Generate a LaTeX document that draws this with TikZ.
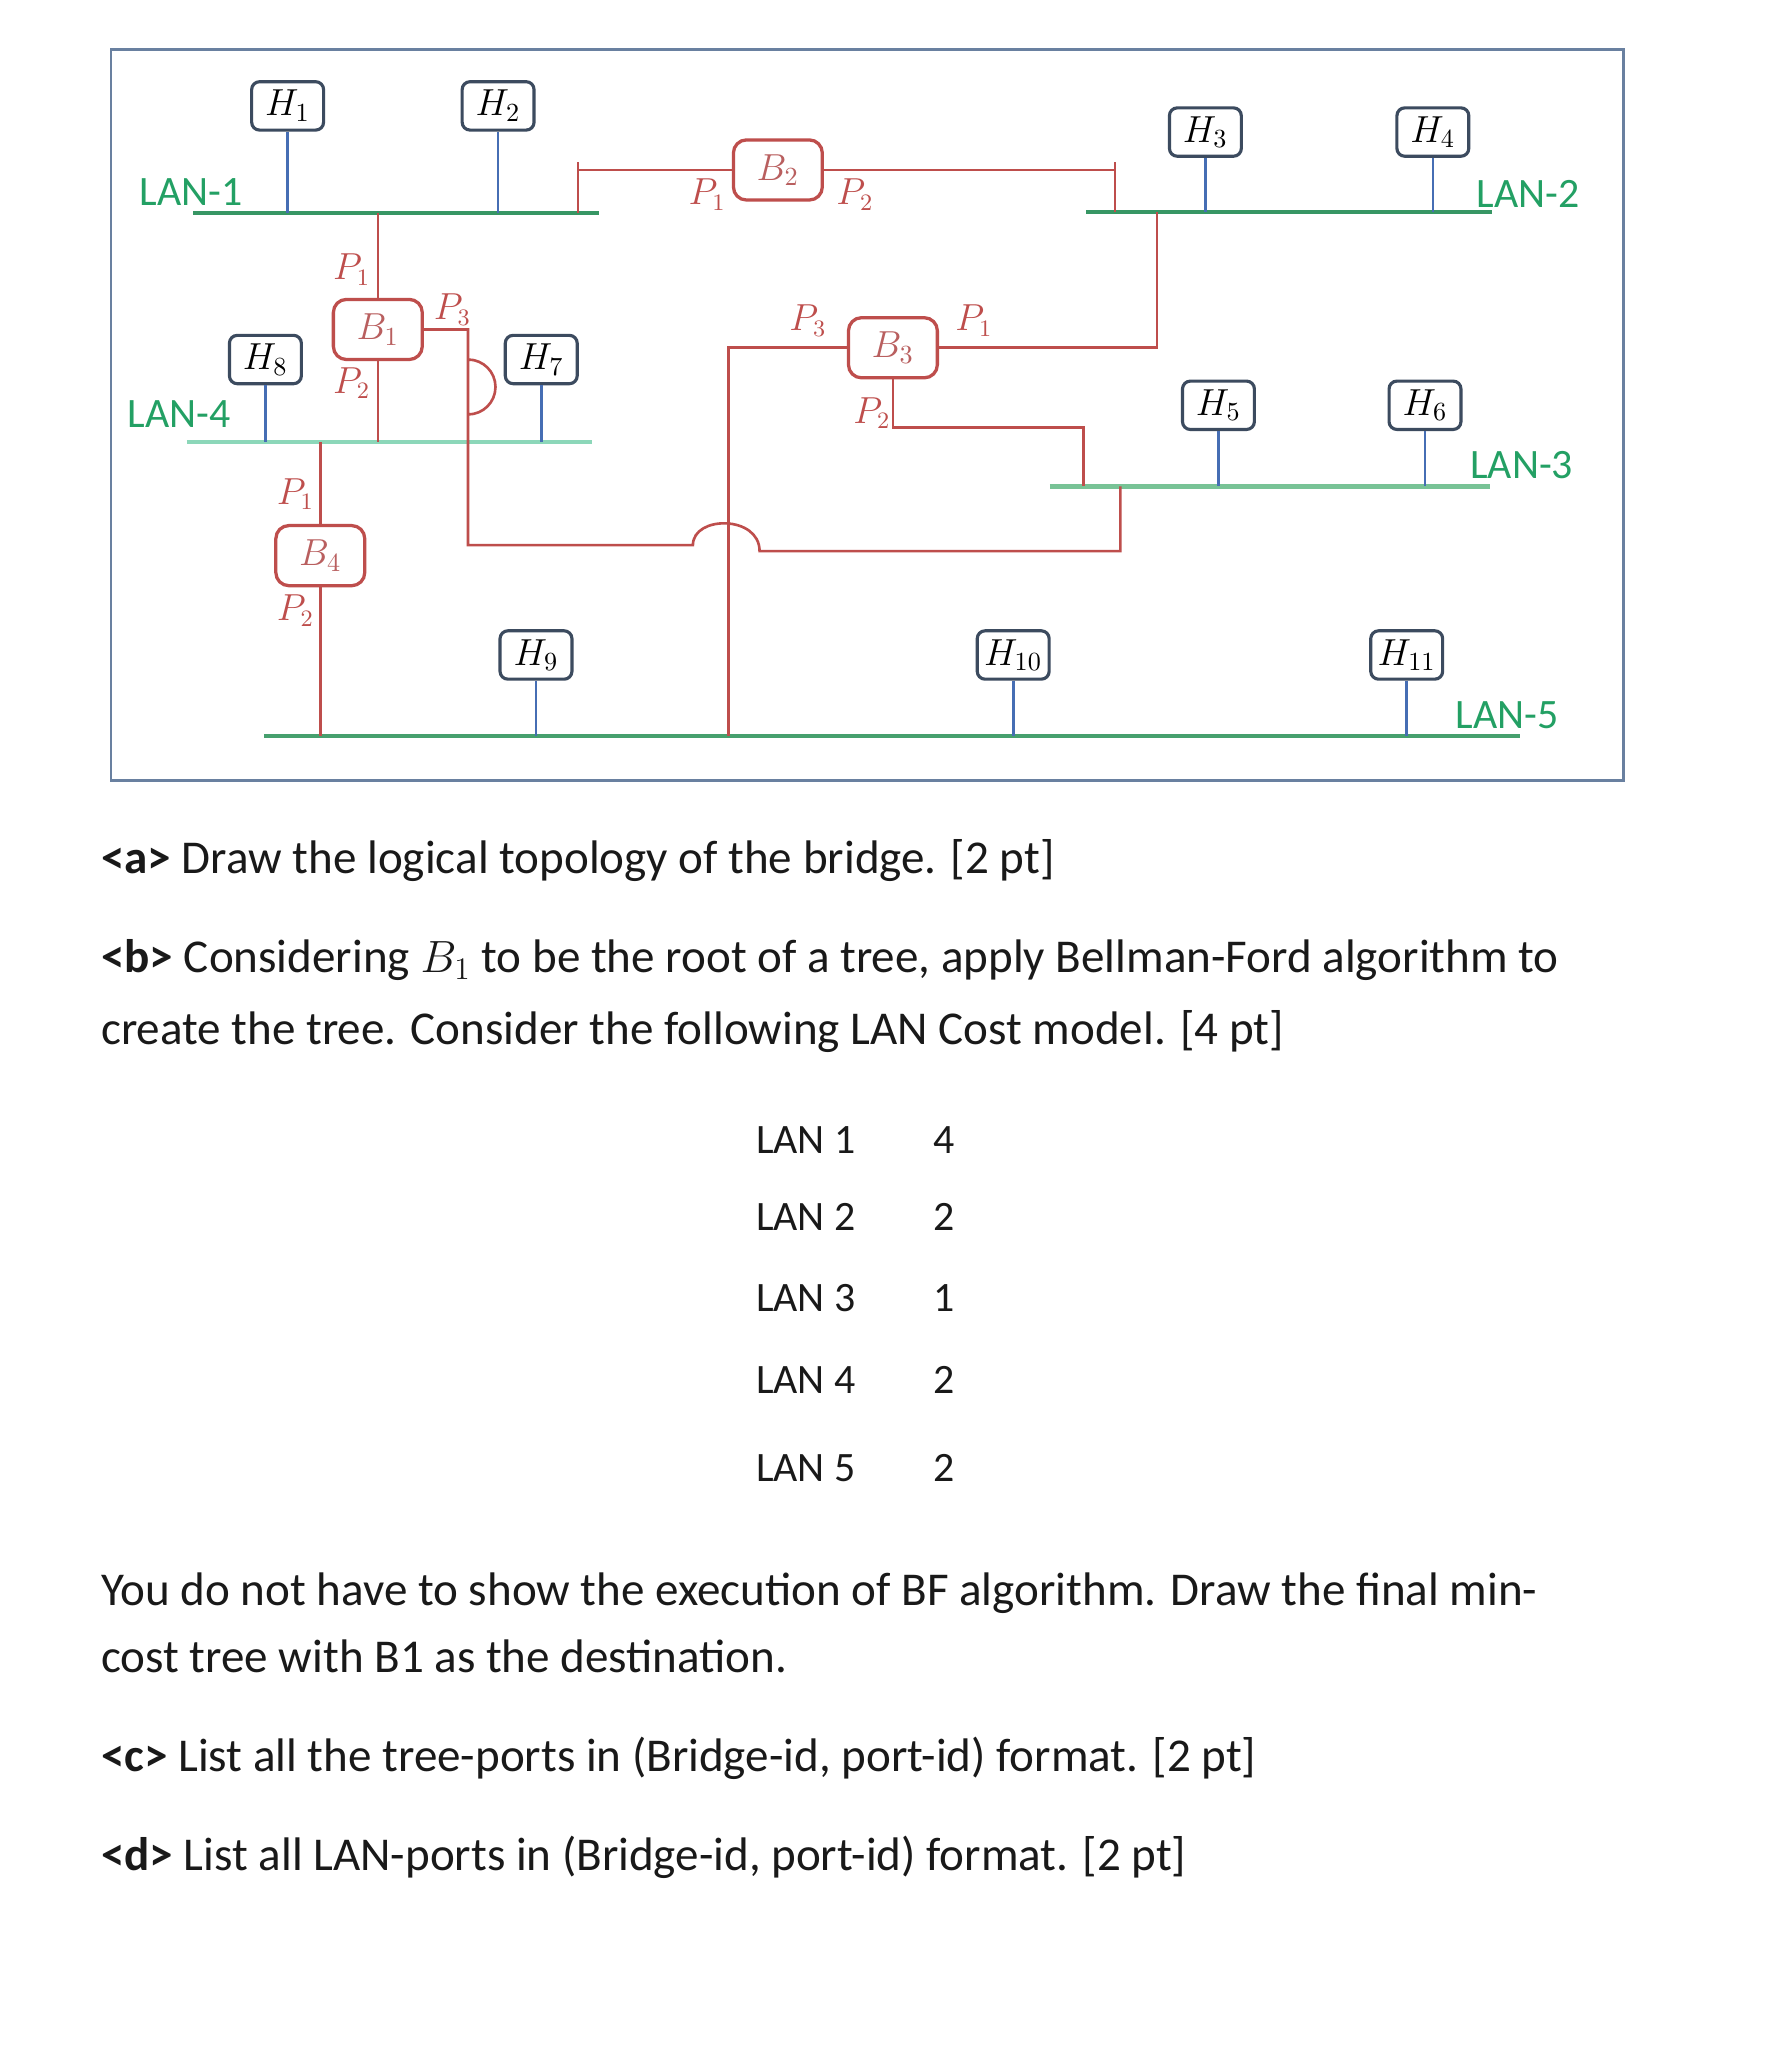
\documentclass[tikz,border=0pt]{standalone}
\usepackage[no-math]{fontspec}
\setmainfont{Carlito}
\definecolor{framec}{RGB}{105,128,160}
\definecolor{hostc}{RGB}{60,75,95}
\definecolor{stemc}{RGB}{70,110,180}
\definecolor{redc}{RGB}{190,78,76}
\definecolor{brtext}{RGB}{185,95,95}
\definecolor{lanA}{RGB}{55,150,100}
\definecolor{lanC}{RGB}{120,195,150}
\definecolor{lanD}{RGB}{140,215,185}
\definecolor{lanE}{RGB}{70,160,110}
\definecolor{labgreen}{RGB}{35,160,100}
\definecolor{txt}{RGB}{25,25,25}
\tikzset{
  host/.style={draw=hostc, line width=1.2pt, rounded corners=3pt, fill=white,
    minimum width=27.5pt, minimum height=18.5pt, inner sep=1pt,
    font=\fontsize{14}{15}\selectfont},
  brg/.style={draw=redc, line width=1.25pt, rounded corners=5pt, fill=white,
    minimum width=34pt, minimum height=23pt, inner sep=1pt, text=brtext,
    font=\fontsize{14}{15}\selectfont},
  plab/.style={text=redc, font=\fontsize{13.5}{14}\selectfont, inner sep=0pt},
  lanlab/.style={text=labgreen, font=\fontsize{16}{18}\selectfont, inner sep=0pt},
  stem/.style={draw=stemc, line width=1pt},
  redline/.style={draw=redc, line width=1pt},
  lanline/.style={line width=1.75pt},
  body/.style={anchor=base west, inner sep=0pt, text=txt, font=\fontsize{18}{20}\selectfont},
  tab/.style={inner sep=0pt, text=txt, font=\fontsize{16}{18}\selectfont}
}
\begin{document}
\begin{tikzpicture}[x=0.5pt,y=-0.5pt]
\useasboundingbox (0,0) rectangle (1350,1565);
\fill[white] (0,0) rectangle (1350,1565);
% frame
\draw[framec, line width=1pt] (85,38) rectangle (1242,597);
% LAN end coordinates
\coordinate (L1a) at (148,163); \coordinate (L1b) at (458,163);
\coordinate (L2a) at (831,162); \coordinate (L2b) at (1141,162);
\coordinate (L3a) at (803,372); \coordinate (L3b) at (1140,372);
\coordinate (L4a) at (143,338); \coordinate (L4b) at (453,338);
\coordinate (L5a) at (202,563); \coordinate (L5b) at (1163,563);
% LANs
\draw[lanline, lanA] (L1a) -- (L1b);
\draw[lanline, lanA] (L2a) -- (L2b);
\draw[lanline, lanC] (L3a) -- (L3b);
\draw[lanline, lanD] (L4a) -- (L4b);
\draw[lanline, lanE] (L5a) -- (L5b);
% LAN labels
\node[lanlab] (t1) at (146,147) {LAN-1};
\node[lanlab] (t2) at (1169,148) {LAN-2};
\node[lanlab] (t3) at (1164,356) {LAN-3};
\node[lanlab] (t4) at (137,317) {LAN-4};
\node[lanlab] (t5) at (1153,547) {LAN-5};
% hosts
\node[host] (H1) at (220,81) {$H_1$};
\node[host] (H2) at (381,81) {$H_2$};
\node[host] (H3) at (922,101) {$H_3$};
\node[host] (H4) at (1096,101) {$H_4$};
\node[host] (H5) at (932,310) {$H_5$};
\node[host] (H6) at (1090,310) {$H_6$};
\node[host] (H7) at (414,275) {$H_7$};
\node[host] (H8) at (203,275) {$H_8$};
\node[host] (H9) at (410,501) {$H_9$};
\node[host] (H10) at (775,501) {$H_{10}$};
\node[host] (H11) at (1076,501) {$H_{11}$};
\foreach \h/\l in {H1/L1a,H2/L1a,H3/L2a,H4/L2a,H5/L3a,H6/L3a,H7/L4a,H8/L4a,H9/L5a,H10/L5a,H11/L5a}
  \draw[stem] (\h.south) -- (\h.south |- \l);
% bridges
\node[brg] (B1) at (289,252) {$B_1$};
\node[brg] (B2) at (595,130) {$B_2$};
\node[brg] (B3) at (683,266) {$B_3$};
\node[brg] (B4) at (245,425) {$B_4$};
% B1 connectors
\draw[redline] (B1.north) -- (B1.north |- L1a);
\draw[redline] (B1.south) -- (B1.south |- L4a);
\coordinate (c13a) at (358,317);
\coordinate (c13b) at (358,417);
\coordinate (c13c) at (530,417);
\coordinate (c13d) at (581,421.5);
\coordinate (c13e) at (857,421.5);
\draw[redline] (B1.east) -| (c13a) arc[start angle=90, end angle=-90, radius=21]
  -- (c13b) -- (c13c) .. controls (530,394) and (581,394) .. (c13d) -- (c13e) -- (c13e |- L3a);
% B2 connectors
\coordinate (c21) at (442,124);
\coordinate (c22) at (853,124);
\draw[redline] (B2.west) -- (B2.west -| c21);
\draw[redline] (c21) -- (c21 |- L1a);
\draw[redline] (B2.east) -- (B2.east -| c22);
\draw[redline] (c22) -- (c22 |- L2a);
% B3 connectors
\coordinate (c33) at (557,563);
\coordinate (c31) at (885,162);
\coordinate (c32) at (829,327);
\draw[redline] (B3.west) -| (c33);
\draw[redline] (B3.east) -| (c31);
\draw[redline] (B3.south) |- (c32) -- (c32 |- L3a);
% B4 connectors
\draw[redline] (B4.north) -- (B4.north |- L4a);
\draw[redline] (B4.south) -- (B4.south |- L5a);
% port labels
\node[plab] (p21) at (541,149) {$P_1$};
\node[plab] (p22) at (654,149) {$P_2$};
\node[plab] (p11) at (269,206) {$P_1$};
\node[plab] (p13) at (346,237) {$P_3$};
\node[plab] (p12) at (269,293) {$P_2$};
\node[plab] (p33) at (618,245) {$P_3$};
\node[plab] (p31) at (745,245) {$P_1$};
\node[plab] (p32) at (667,316) {$P_2$};
\node[plab] (p41) at (226,378) {$P_1$};
\node[plab] (p42) at (226,467) {$P_2$};
% text
\node[body] (qa) at (77,668) {\textbf{<a>} Draw the logical topology of the bridge. [2 pt]};
\node[body] (qb1) at (77,744) {\textbf{<b>} Considering $B_1$ to be the root of a tree, apply Bellman-Ford algorithm to};
\node[body] (qb2) at (77,799) {create the tree. Consider the following LAN Cost model. [4 pt]};
\foreach \n/\v/\y in {1/4/882,2/2/941,3/1/1003,4/2/1066,5/2/1133}{
  \node[tab, anchor=base west] (lan\n) at (578,\y) {LAN \n};
  \node[tab, anchor=base east] (cost\n) at (731,\y) {\v};
}
\node[body] (qb3) at (77,1228) {You do not have to show the execution of BF algorithm. Draw the final min-};
\node[body] (qb4) at (77,1279) {cost tree with B1 as the destination.};
\node[body] (qc) at (77,1355) {\textbf{<c>} List all the tree-ports in (Bridge-id, port-id) format. [2 pt]};
\node[body] (qd) at (77,1431) {\textbf{<d>} List all LAN-ports in (Bridge-id, port-id) format. [2 pt]};
\end{tikzpicture}
\end{document}
